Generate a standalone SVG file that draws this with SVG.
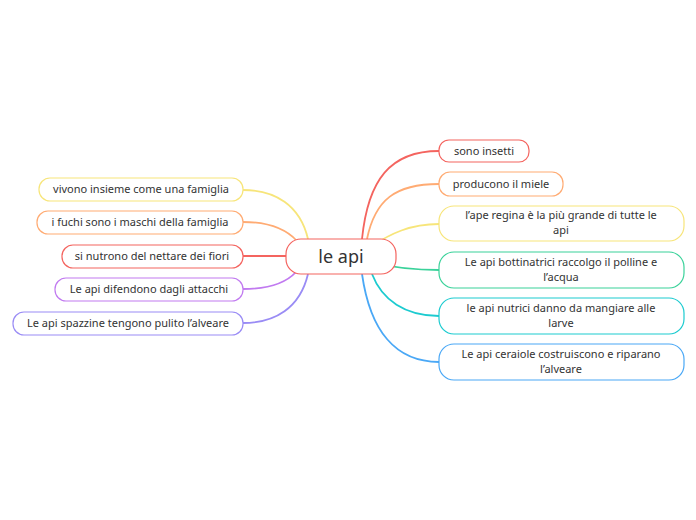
<svg xmlns="http://www.w3.org/2000/svg" width="696" height="520" viewBox="0 0 696 520">
<style>
text{font-family:"Noto Sans","Liberation Sans",sans-serif;font-size:11px;fill:#333;text-anchor:middle}
.n{fill:#fff;stroke-width:1.2}
path{fill:none;stroke-width:1.8}
</style>
<rect width="696" height="520" fill="#fff"/>
<g id="connectors">
<path d="M362 239 C368 180 390 151 439 151" stroke="#f4645f"/>
<path d="M367 239 C375 200 395 184 439 184" stroke="#ffab73"/>
<path d="M372 246 C390 234 410 224 439 224" stroke="#f7e57a"/>
<path d="M376 263 C395 268 415 270 439 270" stroke="#3ad29a"/>
<path d="M372 274 C382 300 405 316 439 316" stroke="#1ccbd0"/>
<path d="M362 274 C370 330 395 362 439 362" stroke="#4aa8f6"/>
<path d="M308 239 C300 205 275 190 243 190" stroke="#f7e57a"/>
<path d="M297 241 C285 228 265 222 243 222" stroke="#ffab73"/>
<path d="M286 256 L243 256" stroke="#f4645f"/>
<path d="M296 272 C285 284 265 289 243 289" stroke="#c17af0"/>
<path d="M308 274 C300 308 275 323 243 323" stroke="#9a8cf5"/>
</g>
<g id="center"><rect x="286" y="239" width="110" height="35" rx="15" class="n" stroke="#f4645f" stroke-width="2.8"/><text x="341" y="263" style="font-size:18px">le api</text></g>
<g id="r1"><rect x="439" y="140" width="90" height="22" rx="10" class="n" stroke="#f4645f"/><text x="484" y="155">sono insetti</text></g>
<g id="r2"><rect x="439" y="172" width="124" height="24" rx="11" class="n" stroke="#ffab73"/><text x="501" y="188">producono il miele</text></g>
<g id="r3"><rect x="439" y="206" width="245" height="35" rx="15" class="n" stroke="#f7e57a"/><text x="561" y="219">l’ape regina è la più grande di tutte le</text><text x="561" y="234">api</text></g>
<g id="r4"><rect x="439" y="252" width="245" height="36" rx="15" class="n" stroke="#3ad29a"/><text x="561" y="266">Le api bottinatrici raccolgo il polline e</text><text x="561" y="281">l’acqua</text></g>
<g id="r5"><rect x="439" y="298" width="245" height="36" rx="15" class="n" stroke="#1ccbd0"/><text x="561" y="312">le api nutrici danno da mangiare alle</text><text x="561" y="327">larve</text></g>
<g id="r6"><rect x="439" y="344" width="245" height="36" rx="15" class="n" stroke="#4aa8f6"/><text x="561" y="358">Le api ceraiole costruiscono e riparano</text><text x="561" y="373">l’alveare</text></g>
<g id="l1"><rect x="39" y="178" width="204" height="23" rx="11" class="n" stroke="#f7e57a"/><text x="141" y="193">vivono insieme come una famiglia</text></g>
<g id="l2"><rect x="37" y="211" width="206" height="23" rx="11" class="n" stroke="#ffab73"/><text x="140" y="226">i fuchi sono i maschi della famiglia</text></g>
<g id="l3"><rect x="62" y="245" width="181" height="23" rx="11" class="n" stroke="#f4645f"/><text x="152" y="260">si nutrono del nettare dei fiori</text></g>
<g id="l4"><rect x="55" y="278" width="188" height="23" rx="11" class="n" stroke="#c17af0"/><text x="149" y="293">Le api difendono dagli attacchi</text></g>
<g id="l5"><rect x="13" y="312" width="230" height="23" rx="11" class="n" stroke="#9a8cf5"/><text x="128" y="327">Le api spazzine tengono pulito l’alveare</text></g>
</svg>
